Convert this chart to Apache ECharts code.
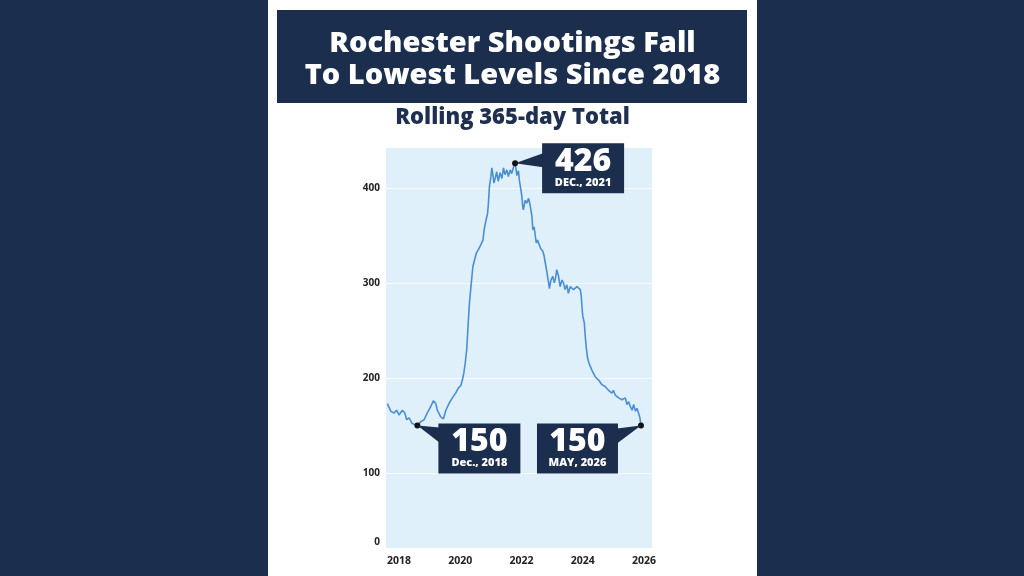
<!DOCTYPE html>
<html>
<head>
<meta charset="utf-8">
<script src="https://cdn.jsdelivr.net/npm/echarts@6/dist/echarts.min.js"></script>
<style>
  html, body { margin: 0; padding: 0; width: 1024px; height: 576px; background: #1c2e4e; overflow: hidden; }
  #panel { position: absolute; left: 268px; top: 0; width: 489px; height: 576px; background: #ffffff; }
</style>
</head>
<body>
<div id="panel"></div>
<script>
// ---- data ----
const titleLines = ['Rochester Shootings Fall', 'To Lowest Levels Since 2018'];
const subtitle = 'Rolling 365-day Total';
const yTickValues = [27, 100, 200, 300, 400];   // bottom label is printed as "0"
const xTickValues = [2018, 2020, 2022, 2024, 2026];

const years = [2017.62, 2017.73, 2017.84, 2017.92, 2018.0, 2018.11, 2018.19, 2018.25, 2018.33, 2018.43,
  2018.6, 2018.71, 2018.82, 2018.92, 2019.04, 2019.12, 2019.2, 2019.25, 2019.36, 2019.45,
  2019.53, 2019.63, 2019.74, 2019.85, 2019.93, 2020.02, 2020.07, 2020.12, 2020.16, 2020.21,
  2020.26, 2020.3, 2020.34, 2020.41, 2020.45, 2020.52, 2020.59, 2020.67, 2020.74, 2020.78,
  2020.84, 2020.89, 2020.92, 2020.95, 2021.0, 2021.03, 2021.06, 2021.1, 2021.14, 2021.19,
  2021.24, 2021.3, 2021.36, 2021.41, 2021.46, 2021.52, 2021.57, 2021.63, 2021.68, 2021.74,
  2021.79, 2021.85, 2021.9, 2021.93, 2021.98, 2022.01, 2022.04, 2022.06, 2022.12, 2022.17,
  2022.23, 2022.28, 2022.34, 2022.37, 2022.41, 2022.44, 2022.48, 2022.52, 2022.58, 2022.63,
  2022.7, 2022.74, 2022.77, 2022.8, 2022.85, 2022.88, 2022.91, 2022.96, 2023.02, 2023.07,
  2023.11, 2023.15, 2023.21, 2023.26, 2023.32, 2023.37, 2023.42, 2023.48, 2023.53, 2023.59,
  2023.64, 2023.7, 2023.75, 2023.81, 2023.86, 2023.92, 2023.95, 2023.98, 2024.0, 2024.05,
  2024.08, 2024.11, 2024.15, 2024.19, 2024.22, 2024.26, 2024.3, 2024.35, 2024.41, 2024.46,
  2024.51, 2024.57, 2024.62, 2024.68, 2024.73, 2024.79, 2024.84, 2024.9, 2024.95, 2025.0,
  2025.06, 2025.11, 2025.17, 2025.22, 2025.28, 2025.33, 2025.39, 2025.44, 2025.5, 2025.55,
  2025.61, 2025.66, 2025.72, 2025.77, 2025.83, 2025.86, 2025.9];

const values = [173, 165, 163, 166, 161, 166, 163, 156, 158, 152,
  150, 154, 156, 163, 170, 176, 173, 166, 159, 157,
  166, 173, 179, 184, 189, 192, 198, 206, 215, 230,
  258, 279, 293, 317, 322, 331, 335, 340, 345, 356,
  366, 373, 384, 401, 412, 421, 415, 405, 410, 417,
  407, 416, 410, 421, 414, 419, 412, 419, 415, 422,
  426, 413, 418, 408, 398, 391, 380, 377, 387, 384,
  389, 382, 370, 356, 359, 352, 342, 345, 340, 336,
  333, 328, 322, 317, 307, 301, 294, 303, 307, 300,
  305, 314, 307, 296, 303, 300, 293, 298, 289, 296,
  298, 293, 294, 296, 294, 293, 286, 272, 265, 258,
  244, 233, 222, 217, 214, 212, 208, 207, 201, 203,
  198, 200, 193, 194, 191, 189, 187, 186, 184, 187,
  182, 184, 179, 180, 177, 175, 179, 172, 175, 170,
  166, 172, 165, 168, 166, 159, 150];

const callouts = [
  { x: 2018.6,  y: 150, big: '150', small: 'Dec., 2018', side: 'right-low' },
  { x: 2021.79, y: 426, big: '426', small: 'DEC., 2021', side: 'right-high' },
  { x: 2025.9,  y: 150, big: '150', small: 'MAY, 2026', side: 'left-low' }
];

// ---- chart ----
const NAVY = '#1c2e4e';
const FONT = '"Open Sans", "Noto Sans", sans-serif';
const chart = echarts.init(document.getElementById('panel'), null, { renderer: 'canvas' });

const seriesData = years.map((yr, i) => [yr, values[i]]);

function txt(id, text, x, y, size, color, weight) {
  return {
    type: 'text', id: id, z: 100,
    style: {
      text: text, x: x, y: y, fill: color,
      font: (weight || 'bold') + ' ' + size + 'px ' + FONT,
      textAlign: 'center', textVerticalAlign: 'middle',
      align: 'center', verticalAlign: 'middle'
    }
  };
}

const baseGraphics = [
  { type: 'rect', id: 'titlebox', z: 10, shape: { x: 9, y: 10, width: 470, height: 93 }, style: { fill: NAVY } },
  txt('t1', titleLines[0], 244.5, 44, 29, '#ffffff', '800'),
  txt('t2', titleLines[1], 244.5, 76, 29, '#ffffff', '800'),
  txt('sub', subtitle, 244.5, 118, 22, '#1f2f4f', '800')
];

chart.setOption({
  animation: false,
  backgroundColor: '#ffffff',
  grid: { left: 118, right: 105, top: 148, bottom: 28, show: true, backgroundColor: '#dff0fb', borderWidth: 0 },
  xAxis: {
    type: 'value', min: 2017.575, max: 2026.26,
    axisLine: { show: false }, axisTick: { show: false }, splitLine: { show: false },
    axisLabel: {
      customValues: xTickValues, margin: 8,
      color: '#222', fontSize: 10.5, fontWeight: 'bold', fontFamily: FONT,
      formatter: v => String(Math.round(v))
    }
  },
  yAxis: {
    type: 'value', min: 21, max: 442,
    axisLine: { show: false },
    axisTick: { show: false, customValues: [100, 200, 300, 400] },
    splitLine: { show: true, lineStyle: { color: 'rgba(255,255,255,0.75)', width: 1 } },
    axisLabel: {
      customValues: yTickValues, margin: 6,
      color: '#222', fontSize: 10, fontWeight: 'bold', fontFamily: FONT,
      formatter: v => (v < 50 ? '0' : String(v))
    }
  },
  series: [{
    type: 'line', data: seriesData, showSymbol: false, silent: true,
    lineStyle: { color: '#4a8fd2', width: 1.6 },
    markPoint: {
      symbol: 'circle', symbolSize: 6, silent: true,
      itemStyle: { color: '#111111' },
      label: { show: false },
      data: callouts.map(c => ({ coord: [c.x, c.y] }))
    }
  }],
  graphic: baseGraphics
});

// callout boxes placed from the library's own coordinate conversion
const extra = [];
callouts.forEach((c, i) => {
  const p = chart.convertToPixel({ gridIndex: 0 }, [c.x, c.y]);
  const mx = p[0], my = p[1];
  let box, tri, cx, ny, sy;
  if (c.side === 'right-high') {
    box = { x: mx + 27, y: my - 20, width: 82, height: 50 };
    tri = [[mx, my], [mx + 28, my - 10], [mx + 28, my + 4]];
    cx = box.x + 41; ny = box.y + 19; sy = box.y + 40;
  } else if (c.side === 'right-low') {
    box = { x: mx + 21, y: my - 2, width: 82, height: 50 };
    tri = [[mx, my], [mx + 22, my + 2], [mx + 22, my + 17]];
    cx = box.x + 41; ny = box.y + 18; sy = box.y + 39;
  } else {
    box = { x: mx - 104, y: my - 2, width: 81, height: 50 };
    tri = [[mx, my], [mx - 24, my + 3], [mx - 24, my + 18]];
    cx = box.x + 40.5; ny = box.y + 18; sy = box.y + 39;
  }
  extra.push({ type: 'polygon', id: 'tri' + i, z: 90, shape: { points: tri }, style: { fill: NAVY } });
  extra.push({ type: 'rect', id: 'box' + i, z: 90, shape: box, style: { fill: NAVY } });
  extra.push(txt('big' + i, c.big, cx, ny, 32, '#ffffff', '800'));
  extra.push(txt('small' + i, c.small, cx, sy, 11, '#ffffff', '800'));
});
chart.setOption({ graphic: baseGraphics.concat(extra) });
</script>
</body>
</html>
